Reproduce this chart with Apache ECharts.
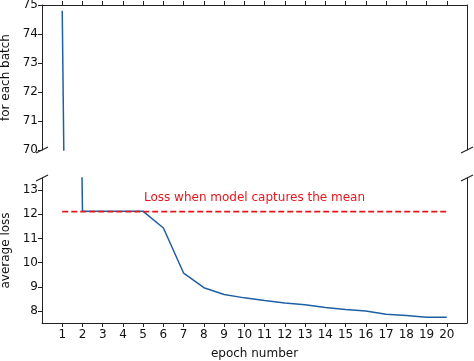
<!DOCTYPE html>
<html>
<head>
<meta charset="utf-8">
<script src="https://cdn.jsdelivr.net/npm/echarts@6/dist/echarts.min.js"></script>
<style>html,body{margin:0;padding:0;background:#fff}#c{width:474px;height:361px}</style>
</head>
<body>
<div id="c"></div>
<script>
const epochs = [1,2,3,4,5,6,7,8,9,10,11,12,13,14,15,16,17,18,19,20];
const avgLoss = [74.8,12.12,12.12,12.12,12.12,11.43,9.56,8.96,8.68,8.54,8.43,8.33,8.26,8.14,8.06,8.0,7.86,7.81,7.74,7.74];
const meanLoss = 12.11;
const meanLabel = 'Loss when model captures the mean';
const xTicks = epochs;
const topYTicks = [70,71,72,73,74,75];
const bottomYTicks = [8,9,10,11,12,13];

const pts = epochs.map((e,i)=>[e, avgLoss[i]]);
const font = 'DejaVu Sans';
const axisColor = '#222';
const lineColor = '#1f5fa3';

const chart = echarts.init(document.getElementById('c'));
const baseY = {
  type:'value', axisLine:{show:true,lineStyle:{color:axisColor,width:1}},
  splitLine:{show:false},
  axisTick:{show:true,length:4,lineStyle:{color:axisColor}},
  axisLabel:{color:'#111',fontFamily:font,fontSize:12,margin:4},
  nameLocation:'middle', nameGap:27,
  nameTextStyle:{color:'#111',fontFamily:font,fontSize:12}
};
const rightY = (gi,min,max)=>({type:'value',gridIndex:gi,position:'right',min,max,
  axisLine:{show:true,lineStyle:{color:axisColor,width:1}},axisTick:{show:false},axisLabel:{show:false},splitLine:{show:false}});
const option = {
  animation:false,
  grid:[
    {left:42,right:7,top:5,height:145,containLabel:false,outerBoundsMode:'none'},
    {left:42,right:7,top:178,bottom:38,containLabel:false,outerBoundsMode:'none'}
  ],
  xAxis:[
    {type:'value',gridIndex:0,min:0,max:21,position:'top',
     axisLine:{show:true,onZero:false,lineStyle:{color:axisColor,width:1}},
     axisTick:{show:true,length:4,customValues:xTicks,lineStyle:{color:axisColor}},
     axisLabel:{show:false},splitLine:{show:false}},
    {type:'value',gridIndex:1,min:0,max:21,position:'bottom',
     axisLine:{show:true,onZero:false,lineStyle:{color:axisColor,width:1}},
     axisTick:{show:true,length:4,customValues:xTicks,lineStyle:{color:axisColor}},
     axisLabel:{show:true,customValues:xTicks,color:'#111',fontFamily:font,fontSize:12,margin:6},
     splitLine:{show:false},
     name:'epoch number',nameLocation:'middle',nameGap:25,
     nameTextStyle:{color:'#111',fontFamily:font,fontSize:12}}
  ],
  yAxis:[
    Object.assign({},baseY,{gridIndex:0,min:70,max:75,
      axisTick:Object.assign({},baseY.axisTick,{customValues:topYTicks}),
      axisLabel:Object.assign({},baseY.axisLabel,{customValues:topYTicks}),
      name:'for each batch'}),
    Object.assign({},baseY,{gridIndex:1,min:7.5,max:13.5,
      axisTick:Object.assign({},baseY.axisTick,{customValues:bottomYTicks}),
      axisLabel:Object.assign({},baseY.axisLabel,{customValues:bottomYTicks}),
      name:'average loss'}),
    rightY(0,70,75),
    rightY(1,7.5,13.5)
  ],
  series:[
    {type:'line',xAxisIndex:0,yAxisIndex:0,data:pts,showSymbol:false,clip:true,
     lineStyle:{color:lineColor,width:1.5},z:3},
    {type:'line',xAxisIndex:1,yAxisIndex:1,data:pts,showSymbol:false,clip:true,
     lineStyle:{color:lineColor,width:1.5},z:3},
    {type:'line',xAxisIndex:1,yAxisIndex:1,
     data:[[epochs[0],meanLoss],[epochs[epochs.length-1],meanLoss]],
     showSymbol:false,lineStyle:{color:'#e8151b',width:1.6,type:[6,3]},z:4,
     markLine:{silent:true,symbol:'none',lineStyle:{color:'rgba(0,0,0,0)',width:1},
       data:[[{coord:[epochs[0],meanLoss]},{coord:[epochs[epochs.length-1],meanLoss]}]],
       label:{show:true,position:'middle',formatter:meanLabel,color:'#e8151b',
         fontFamily:font,fontSize:12,distance:8}}}
  ]
};
chart.setOption(option);

function brk(gi, xv, yv){
  const p = chart.convertToPixel({xAxisIndex:gi,yAxisIndex:gi},[xv,yv]);
  return {type:'line',shape:{x1:p[0]-6,y1:p[1]+3,x2:p[0]+6,y2:p[1]-3},
    style:{stroke:axisColor,lineWidth:1.2},z:10};
}
chart.setOption({graphic:[brk(0,0,70),brk(0,21,70),brk(1,0,13.5),brk(1,21,13.5)]});
</script>
</body>
</html>
